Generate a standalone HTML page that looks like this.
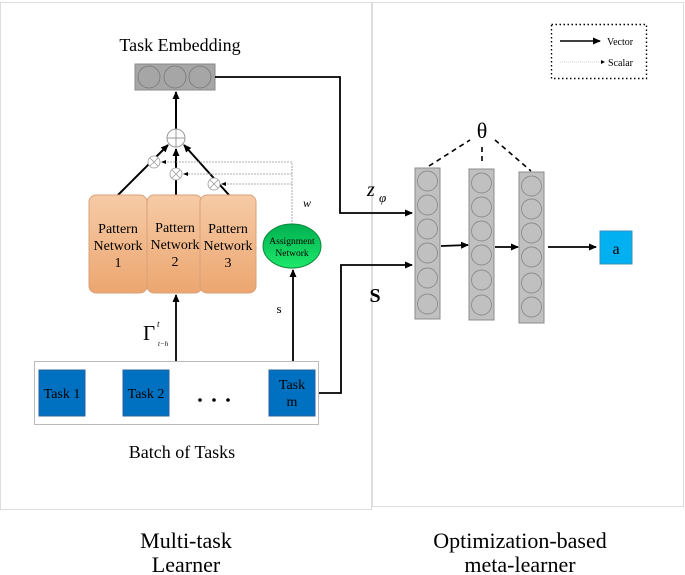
<!DOCTYPE html>
<html><head><style>
html,body{margin:0;padding:0;background:#fff;}
svg{display:block;font-family:"Liberation Serif",serif;}
</style></head><body>
<svg width="685" height="575" viewBox="0 0 685 575" xmlns="http://www.w3.org/2000/svg">
<defs>
<marker id="ah" markerWidth="8" markerHeight="8" refX="7" refY="4" orient="auto" markerUnits="userSpaceOnUse"><path d="M0,0.5 L8,4 L0,7.5 z" fill="#000"/></marker>
<linearGradient id="og" x1="0" y1="0" x2="0" y2="1"><stop offset="0" stop-color="#f6cba6"/><stop offset="1" stop-color="#eca670"/></linearGradient>
<linearGradient id="gg" x1="0" y1="0" x2="0" y2="1"><stop offset="0" stop-color="#00b050"/><stop offset="1" stop-color="#1ee86a"/></linearGradient>
</defs>
<rect x="0.5" y="2.5" width="371" height="507" fill="none" stroke="#ddd"/>
<rect x="372.5" y="2.5" width="311" height="504" fill="none" stroke="#ddd"/>

<text x="180" y="51" font-size="18" text-anchor="middle">Task Embedding</text>
<rect x="135" y="64" width="80" height="26" fill="#a6a6a6" stroke="#888"/>
<circle cx="149" cy="77" r="11" fill="#a6a6a6" stroke="#777" stroke-width="0.8"/>
<circle cx="175" cy="77" r="11" fill="#a6a6a6" stroke="#777" stroke-width="0.8"/>
<circle cx="200" cy="77" r="11" fill="#a6a6a6" stroke="#777" stroke-width="0.8"/>

<polyline points="215,77 340,77 340,213 412,213" fill="none" stroke="#000" stroke-width="1.8" marker-end="url(#ah)"/>
<polyline points="316,393 341,393 341,265 412,265" fill="none" stroke="#000" stroke-width="1.8" marker-end="url(#ah)"/>

<line x1="176" y1="129" x2="176" y2="92" stroke="#000" stroke-width="2" marker-end="url(#ah)"/>
<circle cx="176" cy="138" r="9" fill="#fff" stroke="#999"/>
<line x1="167" y1="138" x2="185" y2="138" stroke="#999"/><line x1="176" y1="129" x2="176" y2="147" stroke="#999"/>
<line x1="118" y1="195" x2="168" y2="145" stroke="#000" stroke-width="2" marker-end="url(#ah)"/>
<line x1="176" y1="195" x2="176" y2="149" stroke="#000" stroke-width="2" marker-end="url(#ah)"/>
<line x1="229" y1="195" x2="184" y2="145" stroke="#000" stroke-width="2" marker-end="url(#ah)"/>

<g stroke="#999" stroke-width="0.8" stroke-dasharray="2,1" fill="none">
<polyline points="292,225 292,162 162,162"/>
<line x1="292" y1="174" x2="184" y2="174"/>
<line x1="292" y1="184" x2="222" y2="184"/>
</g>
<path d="M161,162 l5,-2 v4z M183,174 l5,-2 v4z M221,184 l5,-2 v4z" fill="#000"/>
<g fill="#fff" stroke="#999" stroke-width="0.8">
<circle cx="154" cy="162" r="6"/><circle cx="176" cy="174" r="6"/><circle cx="214" cy="184" r="6"/>
</g>
<g stroke="#999" stroke-width="0.8">
<path d="M150,158 l8,8 M158,158 l-8,8"/><path d="M172,170 l8,8 M180,170 l-8,8"/><path d="M210,180 l8,8 M218,180 l-8,8"/>
</g>

<rect x="89" y="195" width="58" height="98" rx="7" fill="url(#og)" stroke="#d9a07a"/>
<rect x="147" y="195" width="55" height="98" rx="7" fill="url(#og)" stroke="#d9a07a"/>
<rect x="200" y="195" width="56" height="98" rx="7" fill="url(#og)" stroke="#d9a07a"/>
<g font-size="14" text-anchor="middle">
<text x="118" y="233">Pattern</text><text x="118" y="250">Network</text><text x="118" y="267">1</text>
<text x="175" y="232">Pattern</text><text x="175" y="249">Network</text><text x="175" y="266">2</text>
<text x="228" y="233">Pattern</text><text x="228" y="250">Network</text><text x="228" y="267">3</text>
</g>
<text x="307" y="207" font-size="12" font-style="italic" text-anchor="middle">w</text>
<ellipse cx="292" cy="246" rx="29" ry="22" fill="url(#gg)" stroke="#0a8a3a"/>
<text x="292" y="244" font-size="9.5" text-anchor="middle">Assignment</text>
<text x="292" y="256" font-size="9.5" text-anchor="middle">Network</text>

<line x1="293" y1="361" x2="293" y2="270" stroke="#000" stroke-width="1.8" marker-end="url(#ah)"/>
<text x="279" y="313" font-size="13" text-anchor="middle">s</text>
<line x1="176" y1="361" x2="176" y2="295" stroke="#000" stroke-width="1.8" marker-end="url(#ah)"/>
<text x="143" y="340" font-size="21">Γ</text>
<text x="157" y="327" font-size="9" font-style="italic">t</text>
<text x="158" y="346" font-size="7" font-style="italic">t−h</text>

<rect x="34.5" y="361.5" width="284" height="63" fill="#fff" stroke="#bbb"/>
<rect x="39" y="370" width="46" height="46" fill="#0070c0" stroke="#2a5fa0"/>
<rect x="123" y="370" width="46" height="46" fill="#0070c0" stroke="#2a5fa0"/>
<rect x="269" y="370" width="46" height="46" fill="#0070c0" stroke="#2a5fa0"/>
<g font-size="14" text-anchor="middle">
<text x="62" y="398">Task 1</text><text x="146" y="398">Task 2</text>
<text x="292" y="389">Task</text><text x="292" y="406">m</text>
</g>
<circle cx="200" cy="400" r="1.8"/><circle cx="214" cy="400" r="1.8"/><circle cx="228" cy="400" r="1.8"/>
<text x="182" y="458" font-size="18" text-anchor="middle">Batch of Tasks</text>

<text x="186" y="548" font-size="22" text-anchor="middle">Multi-task</text>
<text x="186" y="572" font-size="22" text-anchor="middle">Learner</text>
<text x="520" y="548" font-size="22" text-anchor="middle">Optimization-based</text>
<text x="520" y="572" font-size="22" text-anchor="middle">meta-learner</text>

<text x="367" y="196" font-size="20" font-style="italic">z</text>
<text x="379" y="202" font-size="13" font-style="italic">φ</text>
<text x="375" y="302" font-size="20" font-weight="bold" text-anchor="middle">S</text>

<text x="482" y="138" font-size="22" text-anchor="middle">θ</text>
<g stroke="#000" stroke-width="1.6" stroke-dasharray="5,4" fill="none">
<line x1="429" y1="166" x2="470" y2="140"/>
<line x1="482" y1="147" x2="482" y2="165"/>
<line x1="495" y1="140" x2="531" y2="171"/>
</g>

<g fill="#c0c0c0" stroke="#8c8c8c">
<rect x="415" y="168" width="25" height="151"/>
<rect x="469" y="169" width="25" height="151"/>
<rect x="519" y="172" width="25" height="151"/>
</g>
<g fill="none" stroke="#8c8c8c" stroke-width="0.9">
<circle cx="427.5" cy="181" r="10"/><circle cx="427.5" cy="205" r="10"/><circle cx="427.5" cy="229" r="10"/><circle cx="427.5" cy="253" r="10"/><circle cx="427.5" cy="278" r="10"/><circle cx="427.5" cy="304" r="10"/>
<circle cx="481.5" cy="183" r="10"/><circle cx="481.5" cy="207" r="10"/><circle cx="481.5" cy="231" r="10"/><circle cx="481.5" cy="255" r="10"/><circle cx="481.5" cy="280" r="10"/><circle cx="481.5" cy="305" r="10"/>
<circle cx="531.5" cy="186" r="10"/><circle cx="531.5" cy="209" r="10"/><circle cx="531.5" cy="233" r="10"/><circle cx="531.5" cy="257" r="10"/><circle cx="531.5" cy="283" r="10"/><circle cx="531.5" cy="307" r="10"/>
</g>
<line x1="441" y1="246" x2="468" y2="245" stroke="#000" stroke-width="1.8" marker-end="url(#ah)"/>
<line x1="495" y1="247" x2="518" y2="247" stroke="#000" stroke-width="1.8" marker-end="url(#ah)"/>
<line x1="548" y1="247" x2="596" y2="247" stroke="#000" stroke-width="1.8" marker-end="url(#ah)"/>
<rect x="600" y="231" width="32" height="33" fill="#00b0f0" stroke="#3a8fc0"/>
<text x="616" y="254" font-size="16" text-anchor="middle">a</text>

<rect x="551.5" y="24.5" width="95" height="54" fill="none" stroke="#000" stroke-width="1.4" stroke-dasharray="1.5,2.5"/>
<line x1="560" y1="41" x2="600" y2="41" stroke="#000" stroke-width="1.6" marker-end="url(#ah)"/>
<text x="607" y="45" font-size="10">Vector</text>
<line x1="560" y1="62" x2="602" y2="62" stroke="#aaa" stroke-width="0.6" stroke-dasharray="1,1"/>
<path d="M601,60 l4,2 l-4,2z" fill="#000"/>
<text x="608" y="66" font-size="10">Scalar</text>
</svg>
</body></html>
